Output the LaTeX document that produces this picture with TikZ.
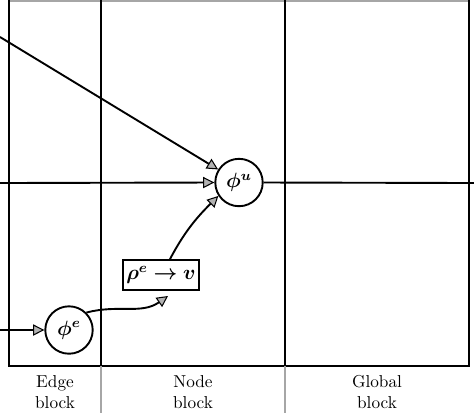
\documentclass[tikz,border=0pt]{standalone}
\usepackage{bm}
\usetikzlibrary{arrows.meta}
\begin{document}
\begin{tikzpicture}[x=0.58pt,y=-0.58pt,
  grid/.style={line width=1.1pt},
  sep/.style={line width=1pt,gray!70},
  fn/.style={circle,draw,line width=1.1pt,minimum size=27.5pt,inner sep=0pt,font=\large},
  agg/.style={rectangle,draw,line width=1.1pt,minimum width=44pt,minimum height=17.4pt,inner sep=1.5pt,font=\large},
  conn/.style={line width=1.1pt,-{Triangle[length=6.5pt,width=6.5pt,line width=0.6pt,fill=gray!60]}},
  lbl/.style={align=center,font=\normalsize}]
\useasboundingbox (0,0) rectangle (474,413);
% grid
\coordinate (tl) at (9,0.5);
\coordinate (tr) at (469,0.5);
\draw[gray!70,line width=1.2pt] (tl) -- (tr);
\draw[grid] (9,0) -- (9,366) -- (469,366) -- (469,0);
\draw[grid] (101,0) -- (101,366);
\draw[grid] (285,0) -- (285,366);
\draw[sep] (101,366) -- (101,413);
\draw[sep] (285,366) -- (285,413);
% nodes
\node[fn] (phiu) at (239,182.5) {$\bm{\phi^{u}}$};
\node[fn] (phie) at (69,330) {$\bm{\phi^{e}}$};
\node[agg] (rho) at (161,275) {$\bm{\rho^{e}\rightarrow v}$};
% connectors
\coordinate (inA) at (0,37);
\coordinate (inB) at (0,183);
\coordinate (outB) at (474,183);
\coordinate (inE) at (0,330);
\coordinate (rhoin) at (168,296);
\draw[conn] (inA) -- (phiu.148);
\draw[conn] (inB) -- (phiu.180);
\draw[grid] (phiu.0) -- (outB);
\draw[conn] (inE) -- (phie.180);
\draw[conn] (phie.45) to[out=15,in=215] (rhoin);
\draw[conn] (rho.north)+(9,0) to[out=62,in=225] (phiu.213);
% labels
\node[lbl] (le) at (55,392) {Edge\\block};
\node[lbl] (ln) at (193,392) {Node\\block};
\node[lbl] (lg) at (377,392) {Global\\block};
\end{tikzpicture}
\end{document}
